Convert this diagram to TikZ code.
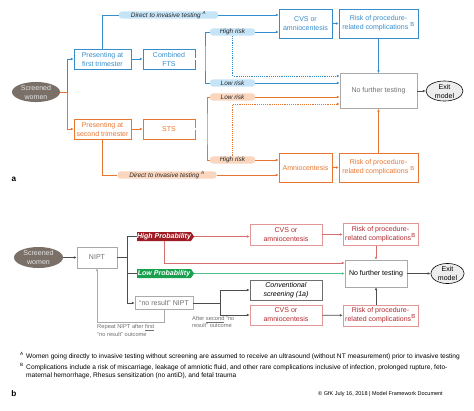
\documentclass[tikz,border=0pt]{standalone}
\usepackage{fontspec}
\setmainfont{Liberation Sans}
\usetikzlibrary{arrows.meta,calc,shapes.symbols,shapes.geometric}

\definecolor{blueA}{RGB}{52,141,204}
\definecolor{blueFill}{RGB}{197,228,247}
\definecolor{orangeA}{RGB}{232,118,48}
\definecolor{orangeFill}{RGB}{251,214,190}
\definecolor{darkRed}{RGB}{160,28,36}
\definecolor{redLine}{RGB}{214,110,110}
\definecolor{redText}{RGB}{176,40,48}
\definecolor{redBorder}{RGB}{226,150,150}
\definecolor{greenFill}{RGB}{24,160,78}
\definecolor{greenLine}{RGB}{80,190,140}
\definecolor{greyBox}{RGB}{170,170,170}
\definecolor{greyText}{RGB}{110,110,110}
\definecolor{womenFill}{RGB}{122,112,104}

\begin{document}
\begin{tikzpicture}[
  x=0.03cm, y=-0.03cm,
  every node/.style={font=\fontsize{6}{7.7}\selectfont, inner sep=0pt, align=center},
  >={Latex[length=2.4pt,width=2.2pt]},
  box/.style={draw, line width=0.5pt, rectangle},
  boxB/.style={box, draw=blueA, text=blueA},
  boxO/.style={box, draw=orangeA, text=orangeA},
  boxR/.style={box, draw=redBorder, text=redText},
  boxK/.style={box, draw=greyText, text=black},
  boxG/.style={box, draw=greyBox, text=greyText},
  women/.style={ellipse, fill=womenFill, text=white!90!black},
  exit/.style={ellipse, draw=black, line width=0.5pt, fill=black!7},
  pill/.style={rounded corners=2.5pt, minimum height=0.22cm,
    font=\fontsize{5.5}{6}\selectfont\itshape, text=black!85},
  pillB/.style={pill, fill=blueFill},
  pillO/.style={pill, fill=orangeFill},
  flag/.style={signal, signal to=east, signal pointer angle=110,
    minimum width=1.71cm, minimum height=0.27cm, text=white,
    font=\fontsize{6}{7}\selectfont\bfseries\itshape},
  lineB/.style={draw=blueA, line width=0.6pt},
  lineO/.style={draw=orangeA, line width=0.6pt},
  lineR/.style={draw=redLine, line width=0.6pt},
  lineK/.style={draw=black!70, line width=0.6pt},
  lineL/.style={draw=greyBox, line width=0.5pt},
  note/.style={font=\fontsize{4.9}{6.4}\selectfont, text=greyText, align=left},
  foot/.style={font=\fontsize{5.65}{6.9}\selectfont, align=left}
]
\useasboundingbox (0,0) rectangle (474,410);

% Panel a: screening by trimester
\node[women, minimum width=1.44cm, minimum height=0.57cm] (womenA) at (36,92) {Screened\\women};

\node[boxB, minimum width=1.71cm, minimum height=0.6cm] (firstT) at (102.5,59) {Presenting at\\first trimester};
\node[boxB, minimum width=1.56cm, minimum height=0.6cm] (fts) at (169,59) {Combined\\FTS};
\node[boxO, minimum width=1.71cm, minimum height=0.6cm] (secondT) at (102.5,129) {Presenting at\\second trimester};
\node[boxO, minimum width=1.56cm, minimum height=0.6cm] (sts) at (169,129) {STS};

\node[boxB, minimum width=1.59cm, minimum height=0.87cm] (cvsA) at (305.5,23.5) {CVS or\\amniocentesis};
\node[boxB, minimum width=2.37cm, minimum height=0.87cm] (riskA) at (378.5,23.5) {Risk of procedure-\\related complications \textsuperscript{B}};
\node[boxO, minimum width=1.59cm, minimum height=0.87cm] (amnio) at (305.5,167.5) {Amniocentesis};
\node[boxO, minimum width=2.37cm, minimum height=0.87cm] (riskO) at (378.5,167.5) {Risk of procedure-\\related complications \textsuperscript{B}};

\node[boxG, minimum width=2.31cm, minimum height=1.05cm] (noA) at (378.5,91) {No further testing};
\node[exit, minimum width=1.11cm, minimum height=0.57cm] (exitA) at (444.5,91) {Exit\\model};

\node[pillB, minimum width=2.97cm] (directA) at (168.5,15) {Direct to invasive testing \textsuperscript{A}};
\node[pillB, minimum width=1.35cm] (hiA) at (232.5,32) {High risk};
\node[pillB, minimum width=1.35cm] (loA) at (232.5,83) {Low risk};
\node[pillO, minimum width=1.35cm] (loO) at (232.5,97) {Low risk};
\node[pillO, minimum width=1.35cm] (hiO) at (232.5,160) {High risk};
\node[pillO, minimum width=2.97cm] (directO) at (167,175) {Direct to invasive testing \textsuperscript{A}};

\coordinate (splitA) at (67,92);
\coordinate (jA) at (205,59);
\coordinate (jO) at (207,129);

\draw[lineO] (womenA) -- (splitA);
\draw[lineB,->] (splitA) |- (firstT);
\draw[lineO,->] (splitA) |- (secondT);
\draw[lineB,->] (firstT) -- (fts);
\draw[lineO,->] (secondT) -- (sts);

\draw[lineB] (firstT.north) |- (directA.west);
\draw[lineB,->] (directA.east) -- (cvsA.west |- directA);
\draw[lineB, double, double distance=1.2pt] (fts.east) -- (jA);
\draw[lineB] (hiA.west) -| (jA) |- (loA.west);
\draw[lineB,->] (hiA.east) -- (cvsA.west |- hiA);
\draw[lineB,densely dotted,->] (hiA.south) |- ($(noA.west)+(0,-15)$);
\draw[lineB,->] (loA.east) -- (noA.west |- loA);
\draw[lineB,->] (cvsA) -- (riskA);
\draw[lineB,->] (riskA) -- (noA);

\draw[lineO] (secondT.south) |- (directO.west);
\draw[lineO,->] (directO.east) -- (amnio.west |- directO);
\draw[lineO, double, double distance=1.2pt] (sts.east) -- (jO);
\draw[lineO] (loO.west) -| (jO) |- (hiO.west);
\draw[lineO,->] (loO.east) -- (noA.west |- loO);
\draw[lineO,densely dotted,->] (hiO.north) |- ($(noA.west)+(0,13)$);
\draw[lineO,->] (hiO.east) -- (amnio.west |- hiO);
\draw[lineO,->] (amnio) -- (riskO);
\draw[lineO,->] (riskO) -- (noA);
\draw[lineK,->] (noA) -- (exitA);

\node[font=\fontsize{7}{8}\selectfont\bfseries] (labA) at (14,179) {a};

% Panel b: NIPT pathway
\node[women, minimum width=1.47cm, minimum height=0.63cm] (womenB) at (38.5,257.5) {Screened\\women};
\node[boxG, minimum width=1.2cm, minimum height=0.63cm] (nipt) at (97,257.5) {NIPT};
\node[flag, fill=darkRed] (hiP) at (164,236.5) {High Probability};
\node[flag, fill=greenFill] (loP) at (164,273.5) {Low Probability};
\node[boxG, minimum width=1.74cm, minimum height=0.39cm] (noRes) at (164,303) {``no result'' NIPT};

\node[boxR, minimum width=2.16cm, minimum height=0.63cm] (cvsB) at (286,234.5) {CVS or\\amniocentesis};
\node[boxR, minimum width=2.25cm, minimum height=0.66cm] (riskB) at (380.5,234.5) {Risk of procedure-\\related complications\textsuperscript{B}};
\node[boxG, text=black, minimum width=1.86cm, minimum height=0.81cm] (noB) at (376,273.5) {No further testing};
\node[exit, minimum width=1.0cm, minimum height=0.52cm] (exitB) at (447.5,273.5) {Exit\\model};
\node[boxK, minimum width=2.16cm, minimum height=0.6cm] (conv) at (286,290) {\textit{Conventional}\\\textit{screening (1a)}};
\node[boxR, minimum width=2.16cm, minimum height=0.6cm] (cvsC) at (286,315) {CVS or\\amniocentesis};
\node[boxR, minimum width=2.25cm, minimum height=0.63cm] (riskC) at (380.5,315.5) {Risk of procedure-\\related complications\textsuperscript{B}};

\coordinate (jB) at (127,257.5);
\coordinate (jC) at (220,303);

\draw[lineK,->] (womenB) -- (nipt);
\draw[lineK] (nipt) -- (jB);
\draw[lineK] (hiP.west) -| (jB);
\draw[lineK] (jB) |- (loP.west);
\draw[lineK,->] (jB) |- (noRes.west);
\draw[lineR,->] (hiP.east) -- (cvsB.west |- hiP);
\draw[lineR,->] (hiP.south) |- ($(noB.west)+(0,-10.5)$);
\draw[draw=greenLine, line width=0.6pt,->] (loP.east) -- (noB.west |- loP);
\draw[lineR,->] (cvsB) -- (riskB);
\draw[lineR,->] (riskB.south -| noB) -- (noB);
\draw[lineK,->] (noB) -- (exitB);

\draw[lineK] (noRes.east) -- (jC);
\draw[lineK,->] (jC) |- (conv.west);
\draw[lineK,->] (jC) |- (cvsC.west);
\draw[lineK,->] (cvsC) -- (riskC);
\draw[lineK,->] (riskC.north -| noB) -- (noB);
\draw[lineL,->] (noRes.south) -- ++(0,12.5) -| (nipt.south);

\node[note, anchor=north west] (repeatNote) at (97,324.5) {Repeat NIPT after \underline{first}\\``no result'' outcome};
\node[note, anchor=north west] (secondNote) at (192,316) {After \underline{second} ``no\\result'' outcome};

% Footnotes
\node[foot, anchor=base east] (markA) at (24,358) {\textsuperscript{A}};
\node[foot, anchor=base west] (footA) at (26,358) {Women going directly to invasive testing without screening are assumed to receive an ultrasound (without NT measurement) prior to invasive testing};
\node[foot, anchor=base east] (markB) at (24,369) {\textsuperscript{B}};
\node[foot, anchor=north west] (footB) at (26,364.5) {Complications include a risk of miscarriage, leakage of amniotic fluid, and other rare complications inclusive of infection, prolonged rupture, feto-\\maternal hemorrhage, Rhesus sensitization (no antiD), and fetal trauma};

\node[font=\fontsize{7}{8}\selectfont\bfseries] (labB) at (14,394) {b};
\node[font=\fontsize{4.7}{6}\selectfont, anchor=east] (copy) at (443,394) {© GfK July 16, 2018 | Model Framework Document};
\end{tikzpicture}
\end{document}
